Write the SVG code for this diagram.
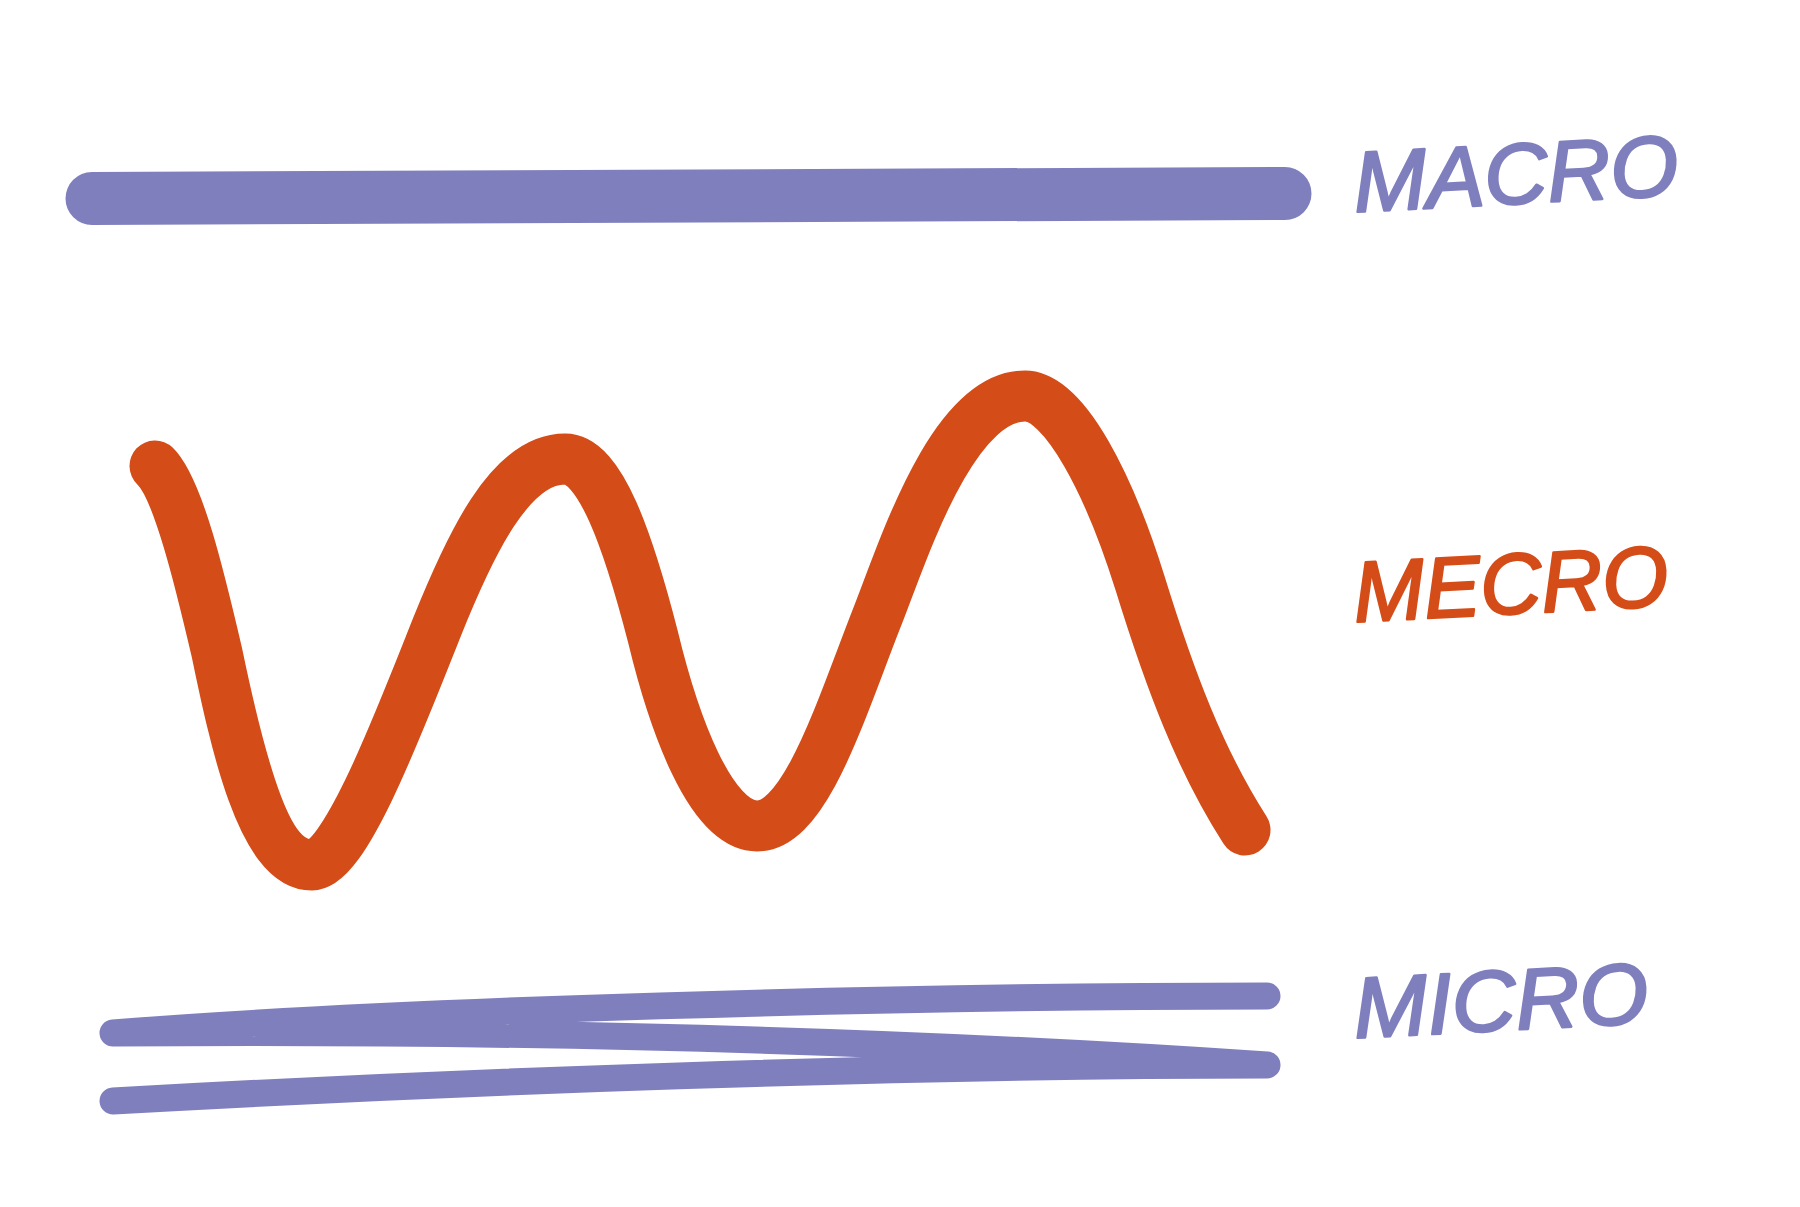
<svg xmlns="http://www.w3.org/2000/svg" width="1800" height="1207" viewBox="0 0 1800 1207">
<style>
.lbl{font-family:"Liberation Sans","DejaVu Sans",sans-serif;font-style:italic;font-size:86px;stroke-width:2.5px;stroke-linejoin:round}
.pur{stroke:#7f7fbe;fill:none;stroke-linecap:round;stroke-linejoin:round}
.org{stroke:#d44c18;fill:none;stroke-linecap:round;stroke-linejoin:round}
</style>
<rect width="1800" height="1207" fill="#ffffff"/>
<g id="macro">
<path class="pur" stroke-width="53" d="M92,198.5 L1285,193.5"/>
<text class="lbl" x="1355" y="212" fill="#7f7fbe" stroke="#7f7fbe" textLength="325" lengthAdjust="spacingAndGlyphs" transform="rotate(-3 1355 212)">MACRO</text>
</g>
<g id="mecro">
<path class="org" stroke-width="51" d="M155,466 C178,488 200,580 217,653 C235,740 262,865 312,865 C345,865 400,720 437,627 C470,545 510,459 565,459 C600,459 628,540 653,637 C673,720 710,826 757,826 C805,826 840,712 876,620 C900,561 950,396 1025,396 C1065,396 1110,487 1140,583 C1170,680 1200,760 1245,830"/>
<text class="lbl" x="1355" y="622" fill="#d44c18" stroke="#d44c18" textLength="315" lengthAdjust="spacingAndGlyphs" transform="rotate(-3 1355 622)">MECRO</text>
</g>
<g id="micro">
<path class="pur" stroke-width="27" d="M1267,996 C900,996 400,1010 113,1033 C500,1030 900,1040 1267,1065 C900,1065 450,1082 113,1101"/>
<text class="lbl" x="1355" y="1038" fill="#7f7fbe" stroke="#7f7fbe" textLength="295" lengthAdjust="spacingAndGlyphs" transform="rotate(-3 1355 1038)">MICRO</text>
</g>
</svg>
